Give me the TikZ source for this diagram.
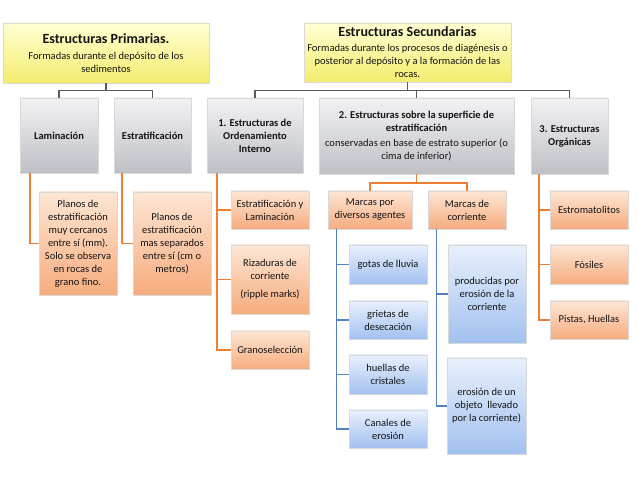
\documentclass[tikz,border=0pt]{standalone}
\usepackage{fontspec}
\setmainfont{Carlito}
\usetikzlibrary{shadows}
\definecolor{amaTop}{RGB}{255,255,212}
\definecolor{amaBot}{RGB}{244,236,110}
\definecolor{grisTop}{RGB}{242,242,244}
\definecolor{grisBot}{RGB}{190,192,198}
\definecolor{narTop}{RGB}{253,230,212}
\definecolor{narBot}{RGB}{246,172,126}
\definecolor{azuTop}{RGB}{232,240,253}
\definecolor{azuBot}{RGB}{162,193,240}
\definecolor{lineaGris}{RGB}{90,90,95}
\definecolor{lineaNar}{RGB}{238,126,50}
\definecolor{lineaAzu}{RGB}{84,130,190}
\definecolor{texto}{RGB}{20,20,20}

\begin{document}
\begin{tikzpicture}[x=1pt, y=-1pt,
			caja/.style={draw=white!70!gray, line width=0.4pt, align=center, inner sep=1pt, text=texto,
				font=\fontsize{10.5}{13}\selectfont,
				drop shadow={shadow xshift=1pt, shadow yshift=-1.5pt, opacity=0.35}},
			amarilla/.style={caja, top color=amaTop, bottom color=amaBot},
			gris/.style={caja, top color=grisTop, bottom color=grisBot, font=\fontsize{10.5}{13}\selectfont\bfseries},
			naranja/.style={caja, top color=narTop, bottom color=narBot},
			azul/.style={caja, top color=azuTop, bottom color=azuBot},
			gconn/.style={draw=lineaGris, line width=1.1pt},
			oconn/.style={draw=lineaNar, line width=1.5pt},
			aconn/.style={draw=lineaAzu, line width=1.1pt}]
			% Rahmen
			\useasboundingbox (0,0) rectangle (638,478);
			% Oberste Ebene
			\node[amarilla, minimum width=206, minimum height=60] (prim) at (106,53)
				{{\fontsize{14}{16}\selectfont\bfseries Estructuras Primarias.}\\[3pt]
				 Formadas durante el depósito de los\\ sedimentos};
			\node[amarilla, minimum width=207, minimum height=59] (sec) at (407.5,52.5)
				{{\fontsize{14}{16}\selectfont\bfseries Estructuras Secundarias}\\[2pt]
				 Formadas durante los procesos de diagénesis o\\ posterior al depósito y a la formación de las\\ rocas.};
			% Zweite Ebene
			\node[gris, minimum width=78, minimum height=75] (lam) at (59,135.5) {Laminación};
			\node[gris, minimum width=77, minimum height=75] (estr) at (152.5,135.5) {Estratificación};
			\node[gris, minimum width=96, minimum height=75] (ord) at (255,135.5) {1. Estructuras de\\ Ordenamiento\\ Interno};
			\node[gris, minimum width=195, minimum height=76] (sup) at (416.5,136)
				{2. Estructuras sobre la superficie de\\ estratificación\\[2pt]
				 \mdseries conservadas en base de estrato superior (o\\ \mdseries cima de inferior)};
			\node[gris, minimum width=77, minimum height=76] (org) at (569.5,136) {3. Estructuras\\ Orgánicas};
			% Dritte Ebene
			\node[naranja, minimum width=78, minimum height=103] (pl1) at (78,243.5)
				{Planos de\\ estratificación\\ muy cercanos\\ entre sí (mm).\\ Solo se observa\\ en rocas de\\ grano fino.};
			\node[naranja, minimum width=78, minimum height=103] (pl2) at (172,243.5)
				{Planos de\\ estratificación\\ mas separados\\ entre sí (cm o\\ metros)};
			\node[naranja, minimum width=78, minimum height=38] (estl) at (270,210) {Estratificación y\\ Laminación};
			\node[naranja, minimum width=78, minimum height=69] (riz) at (270,279.5) {Rizaduras de\\ corriente\\[5pt] (ripple marks)};
			\node[naranja, minimum width=78, minimum height=38] (gran) at (270,350) {Granoselección};
			\node[naranja, minimum width=84, minimum height=38] (mdiv) at (370,210) {Marcas por\\ diversos agentes};
			\node[naranja, minimum width=78, minimum height=38] (mcor) at (467,210) {Marcas de\\ corriente};
			\node[naranja, minimum width=78, minimum height=38] (estro) at (589,210) {Estromatolitos};
			\node[naranja, minimum width=78, minimum height=39] (fos) at (589,264.5) {Fósiles};
			\node[naranja, minimum width=78, minimum height=38] (pis) at (589,320) {Pistas, Huellas};
			% Vierte Ebene
			\node[azul, minimum width=78, minimum height=39] (got) at (388,264.5) {gotas de lluvia};
			\node[azul, minimum width=78, minimum height=38] (gri) at (388,320) {grietas de\\ desecación};
			\node[azul, minimum width=78, minimum height=39] (hue) at (388,374.5) {huellas de\\ cristales};
			\node[azul, minimum width=78, minimum height=38] (can) at (388,429) {Canales de\\ erosión};
			\node[azul, minimum width=78, minimum height=98] (prod) at (487,294) {producidas por\\ erosión de la\\ corriente};
			\node[azul, minimum width=79, minimum height=96] (eros) at (486.5,406) {erosión de un\\ objeto\ \ llevado\\ por la corriente)};
			% Verbindungen oben
			\foreach \z in {lam,estr} \draw[gconn] (prim.south) -- ++(0,7) -| (\z.north);
			\foreach \z in {ord,sup,org} \draw[gconn] (sec.south) -- ++(0,8) -| (\z.north);
			\foreach \z in {mdiv,mcor} \draw[oconn] (sup.south) -- ++(0,9) -| (\z.north);
			% Verbindungen links
			\draw[oconn] ([xshift=10pt]lam.south west) |- (pl1.west);
			\draw[oconn] ([xshift=8pt]estr.south west) |- (pl2.west);
			\foreach \z in {estl,riz,gran} \draw[oconn] ([xshift=10pt]ord.south west) |- (\z.west);
			\foreach \z in {estro,fos,pis} \draw[oconn] ([xshift=8pt]org.south west) |- (\z.west);
			\foreach \z in {got,gri,hue,can} \draw[aconn] ([xshift=9pt]mdiv.south west) |- (\z.west);
			\foreach \z in {prod,eros} \draw[aconn] ([xshift=9pt]mcor.south west) |- (\z.west);
		\end{tikzpicture}
\end{document}
